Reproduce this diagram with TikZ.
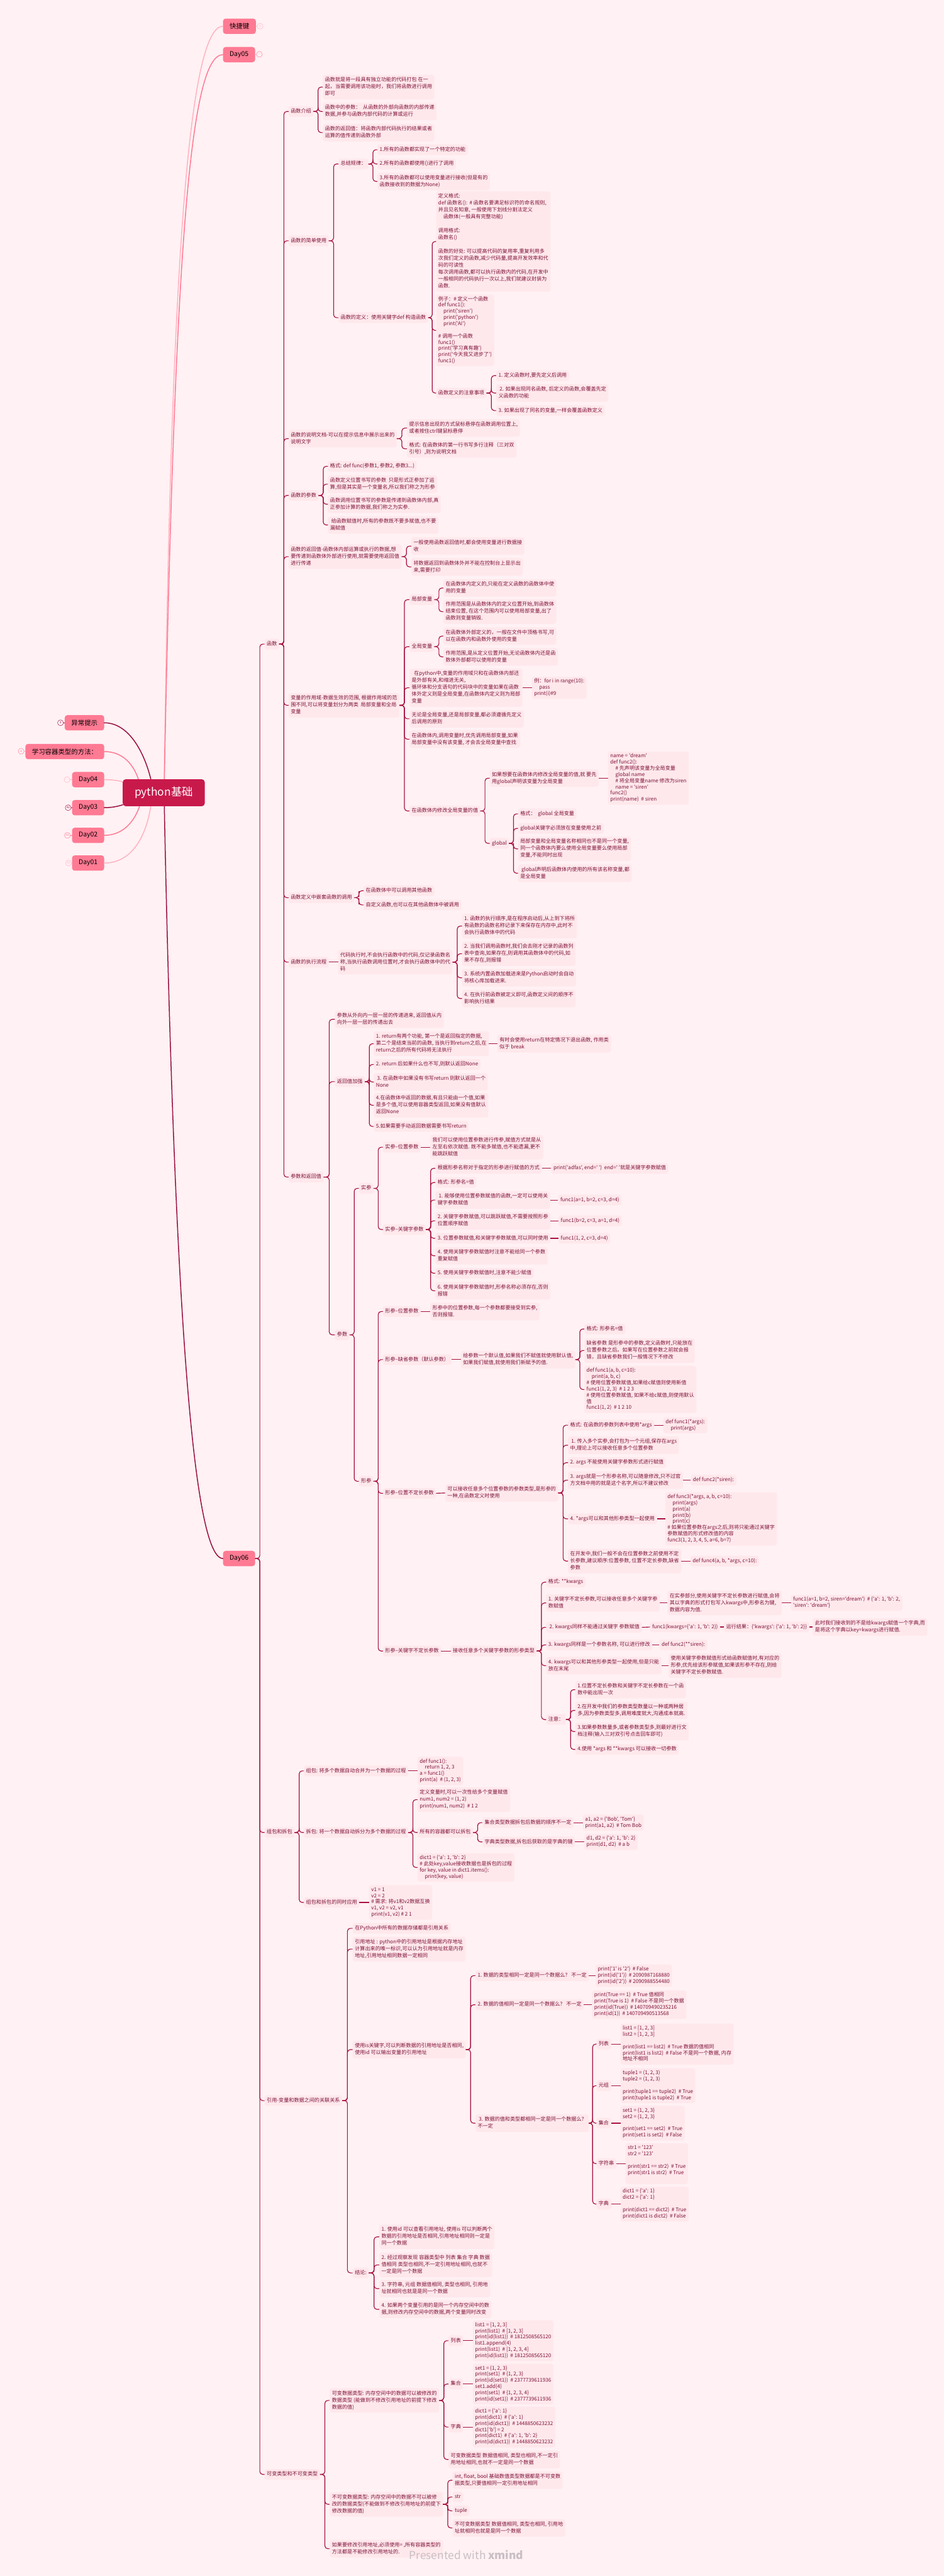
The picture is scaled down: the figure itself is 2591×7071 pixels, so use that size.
\documentclass[tikz,border=0pt]{standalone}
\usepackage{fontspec}
\usetikzlibrary{calc}
\newfontfamily\mf{Noto Sans CJK SC}
\definecolor{bgc}{HTML}{FFF1F4}
\definecolor{boxc}{HTML}{FFE8EC}
\definecolor{txtc}{HTML}{7D1238}
\definecolor{linec}{HTML}{A8123F}
\definecolor{rootc}{HTML}{C8194B}
\definecolor{mainc}{HTML}{FF7A93}
\definecolor{darkb}{HTML}{9B1040}
\definecolor{lightb}{HTML}{FFB3C1}
\definecolor{markc}{HTML}{C9BFC4}
\tikzset{
 tp/.style={fill=boxc,rounded corners=6pt,inner xsep=6pt,inner ysep=5pt,text=txtc,align=left,anchor=west,font=\mf\fontsize{14}{19}\selectfont},
 cp/.style={tp,font=\mf\fontsize{14}{17}\selectfont},
 mainn/.style={fill=mainc,rounded corners=7pt,inner xsep=18pt,inner ysep=0pt,minimum height=42pt,text=black,font=\mf\fontsize{18}{22}\selectfont},
 rootn/.style={fill=rootc,rounded corners=8pt,minimum width=225pt,minimum height=74pt,text=white,font=\mf\fontsize{30}{36}\selectfont},
 conn/.style={draw=linec,line width=2pt,rounded corners=8pt},
 bigc/.style={line width=2.6pt,line cap=round},
 badge/.style={circle,draw=#1,fill=bgc,text=#1,line width=.8pt,minimum size=16pt,inner sep=0pt,font=\mf\fontsize{8}{9}\selectfont},
}
\newcommand{\tn}[4]{\node[tp] (#1) at (#2,#3) {\strut #4\strut};}
\newcommand{\cdn}[4]{\node[cp] (#1) at (#2,#3) {\strut #4\strut};}
\newcommand{\lk}[2]{\draw[conn] (#1.east) -| ($(#1.east)!.5!(#2.west)$) |- (#2.west);}
\newcommand{\ls}[2]{\draw[conn] (#1.east) -- (#2.west);}
\newcommand{\lks}[2]{\foreach \cc in {#2}{\lk{#1}{\cc}}}
\newcommand{\ind}{\hspace*{14pt}}
\begin{document}
\begin{tikzpicture}[x=1pt,y=-1pt]
\useasboundingbox (0,0) rectangle (2591,7071);
\fill[bgc] (0,0) rectangle (2591,7071);

% ---------- root and main topics
\coordinate (rt1) at (451,2139);
\coordinate (rb1) at (451,2213);
\coordinate (rt2) at (414,2139);
\coordinate (rt3) at (380,2139);
\coordinate (rl1) at (337,2146);
\coordinate (rl2) at (337,2209);
\coordinate (rb2) at (383,2213);
\coordinate (rb3) at (414,2213);
\node[mainn,anchor=west] (kjj) at (612,72) {快捷键};
\node[mainn,anchor=west] (d5) at (612,150) {Day05};
\node[mainn,anchor=west] (d6) at (612,4278) {Day06};
\node[mainn,anchor=east] (yc) at (286,1984) {异常提示};
\node[mainn,anchor=east] (xx) at (286,2063) {学习容器类型的方法：};
\node[mainn,anchor=east] (d4) at (286,2140) {Day04};
\node[mainn,anchor=east] (d3) at (286,2217) {Day03};
\node[mainn,anchor=east] (d2) at (286,2293) {Day02};
\node[mainn,anchor=east] (d1) at (286,2369) {Day01};
\draw[bigc,lightb] (rt1) .. controls (470,700) and (520,72) .. (kjj.west);
\draw[bigc,mainc] (rt1) .. controls (480,700) and (520,150) .. (d5.west);
\draw[bigc,darkb] (rb1) .. controls (475,3400) and (520,4278) .. (d6.west);
\draw[bigc,darkb] (yc.east) .. controls (360,1984) and (400,2080) .. (rt2);
\draw[bigc,mainc] (xx.east) .. controls (335,2063) and (365,2095) .. (rt3);
\draw[bigc,lightb] (d4.east) .. controls (305,2140) and (322,2142) .. (rl1);
\draw[bigc,darkb] (d3.east) .. controls (305,2217) and (322,2214) .. (rl2);
\draw[bigc,mainc] (d2.east) .. controls (335,2293) and (368,2258) .. (rb2);
\draw[bigc,lightb] (d1.east) .. controls (360,2369) and (400,2300) .. (rb3);
\node[rootn] (root) at (449.5,2176) {python基础};

% badges
\node[badge=lightb] (bkjj) at (714,72) {5};
\node[badge=mainc] (bd5) at (712,149) {…};
\node[badge=darkb] (by) at (166,1984) {3};
\node[badge=mainc] (bx) at (58,2062) {4};
\node[badge=lightb] (bd4) at (184,2140) {…};
\node[badge=darkb] (bd3) at (187,2217) {42};
\node[badge=mainc] (bd2) at (185,2293) {43};
\node[badge=lightb] (bd1) at (188,2369) {63};
\draw[lightb,line width=1pt] (kjj.east) -- (bkjj.west);
\draw[mainc,line width=1pt] (d5.east) -- (bd5.west);
\draw[darkb,line width=1pt] (yc.west) -- (by.east);
\draw[mainc,line width=1pt] (xx.west) -- (bx.east);
\draw[lightb,line width=1pt] (d4.west) -- (bd4.east);
\draw[darkb,line width=1pt] (d3.west) -- (bd3.east);
\draw[mainc,line width=1pt] (d2.west) -- (bd2.east);
\draw[lightb,line width=1pt] (d1.west) -- (bd1.east);

% ---------- level 1
\tn{fn}{726}{1768}{函数}
\tn{zb}{726}{5030}{组包和拆包}
\tn{yy}{726}{5766}{引用-变量和数据之间的关联关系}
\tn{kb}{726}{6792}{可变类型和不可变类型}
\lks{d6}{fn,zb,yy,kb}

% ---------- 函数
\tn{a}{792}{306}{函数介绍}
\tn{b}{792}{661}{函数的简单使用}
\tn{c}{792}{1204}{函数的说明文档-可以在提示信息中展示出来的\\说明文字}
\tn{e}{792}{1360}{函数的参数}
\tn{f}{792}{1528}{函数的返回值-函数体内部运算或执行的数据,想\\要传递到函数体外部进行使用,就需要使用返回值\\进行传递}
\tn{g}{792}{1936}{变量的作用域-数据生效的范围, 根据作用域的范\\围不同,可以将变量划分为两类~~局部变量和全局\\变量}
\tn{h}{792}{2464}{函数定义中嵌套函数的调用}
\tn{i}{792}{2641}{函数的执行流程}
\tn{j}{792}{3231}{参数和返回值}
\lks{fn}{a,b,c,e,f,g,h,i,j}

\tn{a1}{886}{239}{函数就是将一段具有独立功能的代码打包 在一\\起，当需要调用该功能时，我们将函数进行调用\\即可}
\tn{a2}{886}{306}{函数中的参数：~~从函数的外部向函数的内部传递\\数据,并参与函数内部代码的计算或运行}
\tn{a3}{886}{364}{函数的返回值：将函数内部代码执行的结果或者\\运算的值传递到函数外部}
\lks{a}{a1,a2,a3}

\tn{b1}{929}{450}{总结规律：}
\tn{b2}{929}{872}{函数的定义：使用关键字def 构造函数}
\lks{b}{b1,b2}
\tn{b11}{1036}{411}{1.所有的函数都实现了一个特定的功能}
\tn{b12}{1036}{450}{2.所有的函数都使用()进行了调用}
\tn{b13}{1036}{498}{3.所有的函数都可以使用变量进行接收(但是有的\\函数接收到的数据为None)}
\lks{b1}{b11,b12,b13}
\tn{b21}{1197}{663}{定义格式:\\def 函数名():~~\# 函数名要满足标识符的命名规则,\\并且见名知意, 一般使用下划线分割法定义\\\ind 函数体(一般具有完整功能)\\~\\调用格式:\\函数名()\\~\\函数的好处: 可以提高代码的复用率,重复利用多\\次我们定义的函数,减少代码量,提高开发效率和代\\码的可读性\\每次调用函数,都可以执行函数内的代码,在开发中\\一般相同的代码执行一次以上,我们就建议封装为\\函数.}
\cdn{b22}{1197}{907}{例子：\# 定义一个函数\\def func1():\\\ind print('siren')\\\ind print('python')\\\ind print('AI')\\~\\\# 调用一个函数\\func1()\\print('学习真有趣')\\print('今天我又进步了')\\func1()}
\tn{b23}{1197}{1079}{函数定义的注意事项}
\lks{b2}{b21,b22,b23}
\tn{b231}{1362}{1031}{1. 定义函数时,要先定义后调用}
\tn{b232}{1362}{1079}{~2. 如果出现同名函数, 后定义的函数,会覆盖先定\\义函数的功能}
\tn{b233}{1362}{1127}{3. 如果出现了同名的变量,一样会覆盖函数定义}
\lks{b23}{b231,b232,b233}

\tn{c1}{1117}{1175}{提示信息出现的方式鼠标悬停在函数调用位置上,\\或者按住ctrl键鼠标悬停}
\tn{c2}{1117}{1232}{格式: 在函数体的第一行书写多行注释（三对双\\引号）,则为说明文档}
\lks{c}{c1,c2}

\tn{e1}{900}{1280}{格式: def func(参数1, 参数2, 参数3...)}
\tn{e2}{900}{1329}{函数定义位置书写的参数~~只是形式正参加了运\\算,但是其实是一个变量名,所以我们称之为形参}
\tn{e3}{900}{1384}{函数调用位置书写的参数是传递到函数体内部,真\\正参加计算的数据,我们称之为实参.}
\tn{e4}{900}{1441}{~给函数赋值时,所有的参数既不要多赋值,也不要\\漏赋值}
\lks{e}{e1,e2,e3,e4}

\tn{f1}{1129}{1499}{一般使用函数返回值时,都会使用变量进行数据接\\收}
\tn{f2}{1129}{1556}{将数据返回到函数体外并不能在控制台上显示出\\来,需要打印}
\lks{f}{f1,f2}

\tn{g1}{1124}{1646}{局部变量}
\tn{g2}{1124}{1775}{全局变量}
\tn{g3}{1124}{1888}{~~在python中,变量的作用域只和在函数体内部还\\是外部有关,和缩进无关,\\循环体和分支语句的代码块中的变量如果在函数\\体外定义则是全局变量,在函数体内定义则为局部\\变量}
\tn{g4}{1124}{1973}{无论是全局变量,还是局部变量,都必须遵循先定义\\后调用的原则}
\tn{g5}{1124}{2029}{在函数体内,调用变量时,优先调用局部变量,如果\\局部变量中没有该变量, 才会去全局变量中查找}
\tn{g6}{1124}{2226}{在函数体内修改全局变量的值}
\lks{g}{g1,g2,g3,g4,g5,g6}
\tn{g11}{1217}{1614}{在函数体内定义的,只能在定义函数的函数体中使\\用的变量}
\tn{g12}{1217}{1679}{作用范围是从函数体内的定义位置开始,到函数体\\结束位置, 在这个范围内可以使用局部变量,出了\\函数则变量销毁.}
\lks{g1}{g11,g12}
\tn{g21}{1217}{1746}{在函数体外部定义的，一般在文件中顶格书写,可\\以在函数内和函数外使用的变量}
\tn{g22}{1217}{1803}{作用范围,是从定义位置开始,无论函数体内还是函\\数体外部都可以使用的变量}
\lks{g2}{g21,g22}
\cdn{g31}{1460}{1888}{例：for i in range(10):\\\ind pass\\print(i)\#9}
\ls{g3}{g31}
\tn{g61}{1344}{2136}{如果想要在函数体内修改全局变量的值,就 要先\\用global声明该变量为全局变量}
\tn{g62}{1344}{2315}{global}
\lks{g6}{g61,g62}
\cdn{g611}{1669}{2136}{name = 'dream'\\def func2():\\\ind \# 先声明该变量为全局变量\\\ind global name\\\ind \# 将全局变量name 修改为siren\\\ind name = 'siren'\\func2()\\print(name)~~\# siren}
\ls{g61}{g611}
\tn{g621}{1422}{2234}{格式：~~global 全局变量}
\tn{g622}{1422}{2274}{global关键字必须放在变量使用之前}
\tn{g623}{1422}{2330}{局部变量和全局变量名称相同也不是同一个变量,\\同一个函数体内要么使用全局变量要么使用局部\\变量,不能同时出现}
\tn{g624}{1422}{2397}{~global声明后函数体内使用的所有该名称变量,都\\是全局变量}
\lks{g62}{g621,g622,g623,g624}

\tn{h1}{998}{2445}{在函数体中可以调用其他函数}
\tn{h2}{998}{2484}{自定义函数,也可以在其他函数体中被调用}
\lks{h}{h1,h2}

\tn{i1}{928}{2641}{代码执行时,不会执行函数中的代码,仅记录函数名\\称,当执行函数调用位置时,才会执行函数体中的代\\码}
\ls{i}{i1}
\tn{i11}{1268}{2542}{1. 函数的执行顺序,是在程序启动后,从上到下将所\\有函数的函数名称记录下来保存在内存中,此时不\\会执行函数体中的代码}
\tn{i12}{1268}{2618}{2. 当我们调用函数时,我们会去刚才记录的函数列\\表中查询,如果存在,则调用其函数体中的代码,如\\果不存在,则报错}
\tn{i13}{1268}{2684}{3. 系统内置函数加载进来是Python启动时会自动\\将核心库加载进来.}
\tn{i14}{1268}{2741}{4. 在执行前函数被定义即可,函数定义间的顺序不\\影响执行结果}
\lks{i1}{i11,i12,i13,i14}

\tn{j1}{919}{2798}{参数从外向内一层一层的传递进来, 返回值从内\\向外一层一层的传递出去}
\tn{j2}{919}{2969}{返回值加强}
\tn{j3}{919}{3664}{参数}
\lks{j}{j1,j2,j3}
\tn{j21}{1026}{2865}{1. return有两个功能, 第一个是返回指定的数据,\\第二个是结束当前的函数, 当执行到return之后,在\\return之后的所有代码将无法执行}
\tn{j22}{1026}{2922}{2. return 后如果什么也不写,则默认返回None}
\tn{j23}{1026}{2970}{~3. 在函数中如果没有书写return 则默认返回一个\\None}
\tn{j24}{1026}{3034}{4.在函数体中返回的数据,有且只能由一个值,如果\\是多个值,可以使用容器类型返回,如果没有值默认\\返回None}
\tn{j25}{1026}{3092}{5.如果需要手动返回数据需要书写return}
\lks{j2}{j21,j22,j23,j24,j25}
\tn{j211}{1365}{2865}{有时会使用return在特定情况下退出函数, 作用类\\似于 break}
\ls{j21}{j211}

\tn{s}{985}{3262}{实参}
\tn{t}{985}{4066}{形参}
\lks{j3}{s,t}
\tn{s1}{1051}{3149}{实参–位置参数}
\tn{s2}{1051}{3375}{实参–关键字参数}
\lks{s}{s1,s2}
\tn{s11}{1181}{3149}{我们可以使用位置参数进行传参,赋值方式就是从\\左至右依次赋值. 既不能多赋值,也不能遗漏,更不\\能跳跃赋值}
\ls{s1}{s11}
\tn{s21}{1195}{3207}{根据形参名称对于指定的形参进行赋值的方式}
\tn{s22}{1195}{3246}{格式: 形参名=值}
\tn{s23}{1195}{3294}{~1. 能够使用位置参数赋值的函数,一定可以使用关\\键字参数赋值}
\tn{s24}{1195}{3351}{2. 关键字参数赋值,可以跳跃赋值,不需要按照形参\\位置顺序赋值}
\tn{s25}{1195}{3399}{3. 位置参数赋值,和关键字参数赋值,可以同时使用}
\tn{s26}{1195}{3447}{4. 使用关键字参数赋值时注意不能给同一个参数\\重复赋值}
\tn{s27}{1195}{3495}{5. 使用关键字参数赋值时,注意不能少赋值}
\tn{s28}{1195}{3543}{6. 使用关键字参数赋值时,形参名称必须存在,否则\\报错}
\lks{s2}{s21,s22,s23,s24,s25,s26,s27,s28}
\tn{s211}{1513}{3207}{print('adfas', end=' ')~~end=' '就是关键字参数赋值}
\tn{s231}{1532}{3294}{func1(a=1, b=2, c=3, d=4)}
\tn{s241}{1533}{3351}{func1(b=2, c=3, a=1, d=4)}
\tn{s251}{1533}{3399}{func1(1, 2, c=3, d=4)}
\ls{s21}{s211}
\ls{s23}{s231}
\ls{s24}{s241}
\ls{s25}{s251}

\tn{t1}{1051}{3600}{形参–位置参数}
\tn{t2}{1051}{3732}{形参–缺省参数（默认参数）}
\tn{t3}{1051}{4099}{形参–位置不定长参数}
\tn{t4}{1051}{4532}{形参–关键字不定长参数}
\lks{t}{t1,t2,t3,t4}
\tn{t11}{1181}{3600}{形参中的位置参数,每一个参数都要接受到实参,\\否则报错.}
\ls{t1}{t11}
\tn{t21}{1265}{3732}{给参数一个默认值,如果我们不赋值就使用默认值,\\如果我们赋值,就使用我们新赋予的值.}
\ls{t2}{t21}
\tn{t211}{1604}{3648}{格式: 形参名=值}
\tn{t212}{1604}{3707}{缺省参数 是形参中的参数,定义函数时,只能放在\\位置参数之后。如果写在位置参数之前就会报\\错，且缺省参数我们一般情况下不修改}
\cdn{t213}{1604}{3814}{def func1(a, b, c=10):\\\ind print(a, b, c)\\\# 使用位置参数赋值,如果给c赋值则使用新值\\func1(1, 2, 3)~~\# 1 2 3\\\# 使用位置参数赋值, 如果不给c赋值,则使用默认\\值\\func1(1, 2)~~\# 1 2 10}
\lks{t21}{t211,t212,t213}

\tn{t31}{1222}{4098}{可以接收任意多个位置参数的参数类型,是形参的\\一种,在函数定义时使用}
\ls{t3}{t31}
\tn{t311}{1559}{3912}{格式: 在函数的参数列表中使用*args}
\tn{t312}{1559}{3967}{~1. 传入多个实参,会打包为一个元组,保存在args\\中,理论上可以接收任意多个位置参数}
\tn{t313}{1559}{4015}{2. args 不能使用关键字参数形式进行赋值}
\tn{t314}{1559}{4063}{3. args就是一个形参名称,可以随意修改,只不过官\\方文档中用的就是这个名字,所以不建议修改}
\tn{t315}{1559}{4169}{4. *args可以和其他形参类型一起使用}
\tn{t316}{1559}{4285}{在开发中,我们一般不会在位置参数之前使用不定\\长参数,建议顺序:位置参数, 位置不定长参数,缺省\\参数}
\lks{t31}{t311,t312,t313,t314,t315,t316}
\cdn{t3111}{1821}{3912}{def func1(*args):\\\ind print(args)}
\tn{t3141}{1896}{4063}{def func2(*siren):}
\cdn{t3151}{1826}{4169}{def func3(*args, a, b, c=10):\\\ind print(args)\\\ind print(a)\\\ind print(b)\\\ind print(c)\\\# 如果位置参数在args之后,则将只能通过关键字\\参数赋值的形式修改值的内容\\func3(1, 2, 3, 4, 5, a=6, b=7)}
\tn{t3161}{1895}{4285}{def func4(a, b, *args, c=10):}
\ls{t311}{t3111}
\ls{t314}{t3141}
\ls{t315}{t3151}
\ls{t316}{t3161}

\tn{t41}{1237}{4532}{接收任意多个关键字参数的形参类型}
\ls{t4}{t41}
\tn{t411}{1499}{4343}{格式: **kwargs}
\tn{t412}{1499}{4400}{1. 关键字不定长参数,可以接收任意多个关键字参\\数赋值}
\tn{t413}{1499}{4467}{~2. kwargs同样不能通过关键字 参数赋值}
\tn{t414}{1499}{4515}{3. kwargs同样是一个参数名称, 可以进行修改}
\tn{t415}{1499}{4572}{4. kwargs可以和其他形参类型一起使用,但是只能\\放在末尾}
\tn{t416}{1499}{4720}{注意：}
\lks{t41}{t411,t412,t413,t414,t415,t416}
\tn{t4121}{1832}{4400}{在实参部分,使用关键字不定长参数进行赋值,会将\\其以字典的形式打包写入kwargs中,形参名为键,\\数据内容为值.}
\cdn{t4122}{2171}{4400}{func1(a=1, b=2, siren='dream')~~\# \{'a': 1, 'b': 2,\\'siren': 'dream'\}}
\ls{t412}{t4121}
\ls{t4121}{t4122}
\tn{t4131}{1784}{4466}{func1(kwargs=\{'a': 1, 'b': 2\})}
\tn{t4132}{1987}{4466}{运行结果：\{'kwargs': \{'a': 1, 'b': 2\}\}}
\tn{t4133}{2231}{4466}{此时我们接收到的不是给kwargs赋值一个字典,而\\是将这个字典以key=kwargs进行赋值.}
\ls{t413}{t4131}
\ls{t4131}{t4132}
\ls{t4132}{t4133}
\tn{t4141}{1810}{4515}{def func2(**siren):}
\ls{t414}{t4141}
\tn{t4151}{1835}{4572}{使用关键字参数赋值形式给函数赋值时,有对应的\\形参,优先给该形参赋值,如果该形参不存在,则给\\关键字不定长参数赋值.}
\ls{t415}{t4151}
\tn{t4161}{1579}{4638}{1.位置不定长参数和关键字不定长参数在一个函\\数中能出现一次}
\tn{t4162}{1579}{4695}{2.在开发中我们的参数类型数量以一种或两种居\\多,因为参数类型多,调用难度就大,沟通成本就高.}
\tn{t4163}{1579}{4753}{3.如果参数数量多,或者参数类型多,则最好进行文\\档注释(输入三对双引号点击回车即可)}
\tn{t4164}{1579}{4802}{4.使用 *args 和 **kwargs 可以接收一切参数}
\lks{t416}{t4161,t4162,t4163,t4164}

% ---------- 组包和拆包
\tn{z1}{834}{4861}{组包: 将多个数据自动合并为一个数据的过程}
\tn{z2}{834}{5030}{拆包: 将一个数据自动拆分为多个数据的过程}
\tn{z3}{834}{5222}{组包和拆包的同时应用}
\lks{zb}{z1,z2,z3}
\cdn{z11}{1146}{4861}{def func1():\\\ind return 1, 2, 3\\a = func1()\\print(a)~~\# (1, 2, 3)}
\ls{z1}{z11}
\tn{z21}{1146}{4940}{定义变量时,可以一次性给多个变量赋值\\num1, num2 = (1, 2)\\print(num1, num2)~~\# 1 2}
\tn{z22}{1146}{5030}{所有的容器都可以拆包}
\cdn{z23}{1146}{5126}{dict1 = \{'a': 1, 'b': 2\}\\\# 此处key,value接收数据也是拆包的过程\\for key, value in dict1.items():\\\ind print(key, value)}
\lks{z2}{z21,z22,z23}
\tn{z221}{1324}{5003}{集合类型数据拆包后数据的顺序不一定}
\tn{z222}{1324}{5056}{字典类型数据,拆包后获取的是字典的键}
\lks{z22}{z221,z222}
\cdn{z2211}{1600}{5003}{a1, a2 = \{'Bob', 'Tom'\}\\print(a1, a2)~~\# Tom Bob}
\cdn{z2221}{1604}{5056}{d1, d2 = \{'a': 1, 'b': 2\}\\print(d1, d2)~~\# a b}
\ls{z221}{z2211}
\ls{z222}{z2221}
\cdn{z31}{1013}{5222}{v1 = 1\\v2 = 2\\\# 需求: 将v1和v2数据互换\\v1, v2 = v2, v1\\print(v1, v2) \# 2 1}
\ls{z3}{z31}

% ---------- 引用
\tn{y1}{968}{5293}{在Python中所有的数据存储都是引用关系}
\tn{y2}{968}{5350}{引用地址 : python中的引用地址是根据内存地址\\计算出来的唯一标识,可以认为引用地址就是内存\\地址,引用地址相同数据一定相同}
\tn{y3}{968}{5626}{使用is关键字,可以判断数据的引用地址是否相同,\\使用id 可以输出变量的引用地址}
\tn{y4}{968}{6239}{结论:}
\lks{yy}{y1,y2,y3,y4}
\tn{y31}{1305}{5423}{1. 数据的类型相同一定是同一个数据么？ 不一定}
\tn{y32}{1305}{5503}{2. 数据的值相同一定是同一个数据么？ 不一定}
\tn{y33}{1305}{5828}{~3. 数据的值和类型都相同一定是同一个数据么？\\不一定}
\lks{y3}{y31,y32,y33}
\cdn{y311}{1635}{5423}{print('1' is '2')~~\# False\\print(id('1'))~~\# 2090987168880\\print(id('2'))~~\# 2090988554480}
\ls{y31}{y311}
\cdn{y321}{1625}{5503}{print(True == 1)~~\# True 值相同\\print(True is 1)~~\# False 不是同一个数据\\print(id(True))~~\# 140709490235216\\print(id(1))~~\# 140709490513568}
\ls{y32}{y321}
\tn{y331}{1637}{5611}{列表}
\tn{y332}{1637}{5725}{元组}
\tn{y333}{1637}{5828}{集合}
\tn{y334}{1637}{5939}{字符串}
\tn{y335}{1637}{6050}{字典}
\lks{y33}{y331,y332,y333,y334,y335}
\cdn{y3311}{1703}{5611}{list1 = [1, 2, 3]\\list2 = [1, 2, 3]\\~\\print(list1 == list2)~~\# True 数据的值相同\\print(list1 is list2)~~\# False 不是同一个数据, 内存\\地址不相同}
\cdn{y3321}{1703}{5725}{tuple1 = (1, 2, 3)\\tuple2 = (1, 2, 3)\\~\\print(tuple1 == tuple2)~~\# True\\print(tuple1 is tuple2)~~\# True}
\cdn{y3331}{1703}{5828}{set1 = \{1, 2, 3\}\\set2 = \{1, 2, 3\}\\~\\print(set1 == set2)~~\# True\\print(set1 is set2)~~\# False}
\cdn{y3341}{1717}{5939}{str1 = '123'\\str2 = '123'\\~\\print(str1 == str2)~~\# True\\print(str1 is str2)~~\# True\\~}
\cdn{y3351}{1703}{6050}{dict1 = \{'a': 1\}\\dict2 = \{'a': 1\}\\~\\print(dict1 == dict2)~~\# True\\print(dict1 is dict2)~~\# False}
\ls{y331}{y3311}
\ls{y332}{y3321}
\ls{y333}{y3331}
\ls{y334}{y3341}
\ls{y335}{y3351}
\tn{y41}{1041}{6140}{1. 使用id 可以查看引用地址, 使用is 可以判断两个\\数据的引用地址是否相同,引用地址相同则一定是\\同一个数据}
\tn{y42}{1041}{6217}{2. 经过观察发现 容器类型中 列表 集合 字典 数据\\值相同 类型也相同,不一定引用地址相同,也就不\\一定是同一个数据}
\tn{y43}{1041}{6282}{3. 字符串, 元组 数据值相同, 类型也相同, 引用地\\址就相同也就是是同一个数据}
\tn{y44}{1041}{6339}{4. 如果两个变量引用的是同一个内存空间中的数\\据,则修改内存空间中的数据,两个变量同时改变}
\lks{y4}{y41,y42,y43,y44}

% ---------- 可变类型
\tn{k1}{905}{6589}{可变数据类型: 内存空间中的数据可以被修改的\\数据类型 (能做到不修改引用地址的前提下修改\\数据的值)}
\tn{k2}{905}{6874}{不可变数据类型: 内存空间中的数据不可以被修\\改的数据类型(不能做到不修改引用地址的前提下\\修改数据的值)}
\tn{k3}{905}{6996}{如果要修改引用地址,必须使用= ,所有容器类型的\\方法都是不能修改引用地址的.}
\lks{kb}{k1,k2,k3}
\tn{k11}{1231}{6425}{列表}
\tn{k12}{1231}{6544}{集合}
\tn{k13}{1231}{6662}{字典}
\tn{k14}{1231}{6751}{可变数据类型 数据值相同, 类型也相同,不一定引\\用地址相同,也就不一定是同一个数据}
\lks{k1}{k11,k12,k13,k14}
\cdn{k111}{1298}{6425}{list1 = [1, 2, 3]\\print(list1)~~\# [1, 2, 3]\\print(id(list1))~~\# 1812508565120\\list1.append(4)\\print(list1)~~\# [1, 2, 3, 4]\\print(id(list1))~~\# 1812508565120}
\cdn{k121}{1298}{6544}{set1 = \{1, 2, 3\}\\print(set1)~~\# \{1, 2, 3\}\\print(id(set1))~~\# 2377739611936\\set1.add(4)\\print(set1)~~\# \{1, 2, 3, 4\}\\print(id(set1))~~\# 2377739611936}
\cdn{k131}{1298}{6662}{dict1 = \{'a': 1\}\\print(dict1)~~\# \{'a': 1\}\\print(id(dict1))~~\# 1448850623232\\dict1['b'] = 2\\print(dict1)~~\# \{'a': 1, 'b': 2\}\\print(id(dict1))~~\# 1448850623232}
\ls{k11}{k111}
\ls{k12}{k121}
\ls{k13}{k131}
\tn{k21}{1242}{6808}{int, float, bool 基础数值类型数据都是不可变数\\据类型,只要值相同一定引用地址相同}
\tn{k22}{1242}{6854}{str}
\tn{k23}{1242}{6892}{tuple}
\tn{k24}{1242}{6939}{不可变数据类型 数据值相同, 类型也相同, 引用地\\址就相同也就是是同一个数据}
\lks{k2}{k21,k22,k23,k24}

% watermark
\node[anchor=west,text=markc,inner sep=0pt,font=\mf\fontsize{30}{34}\selectfont] (wm) at (1123,7013) {Presented with \textbf{xmind}};
\end{tikzpicture}
\end{document}
